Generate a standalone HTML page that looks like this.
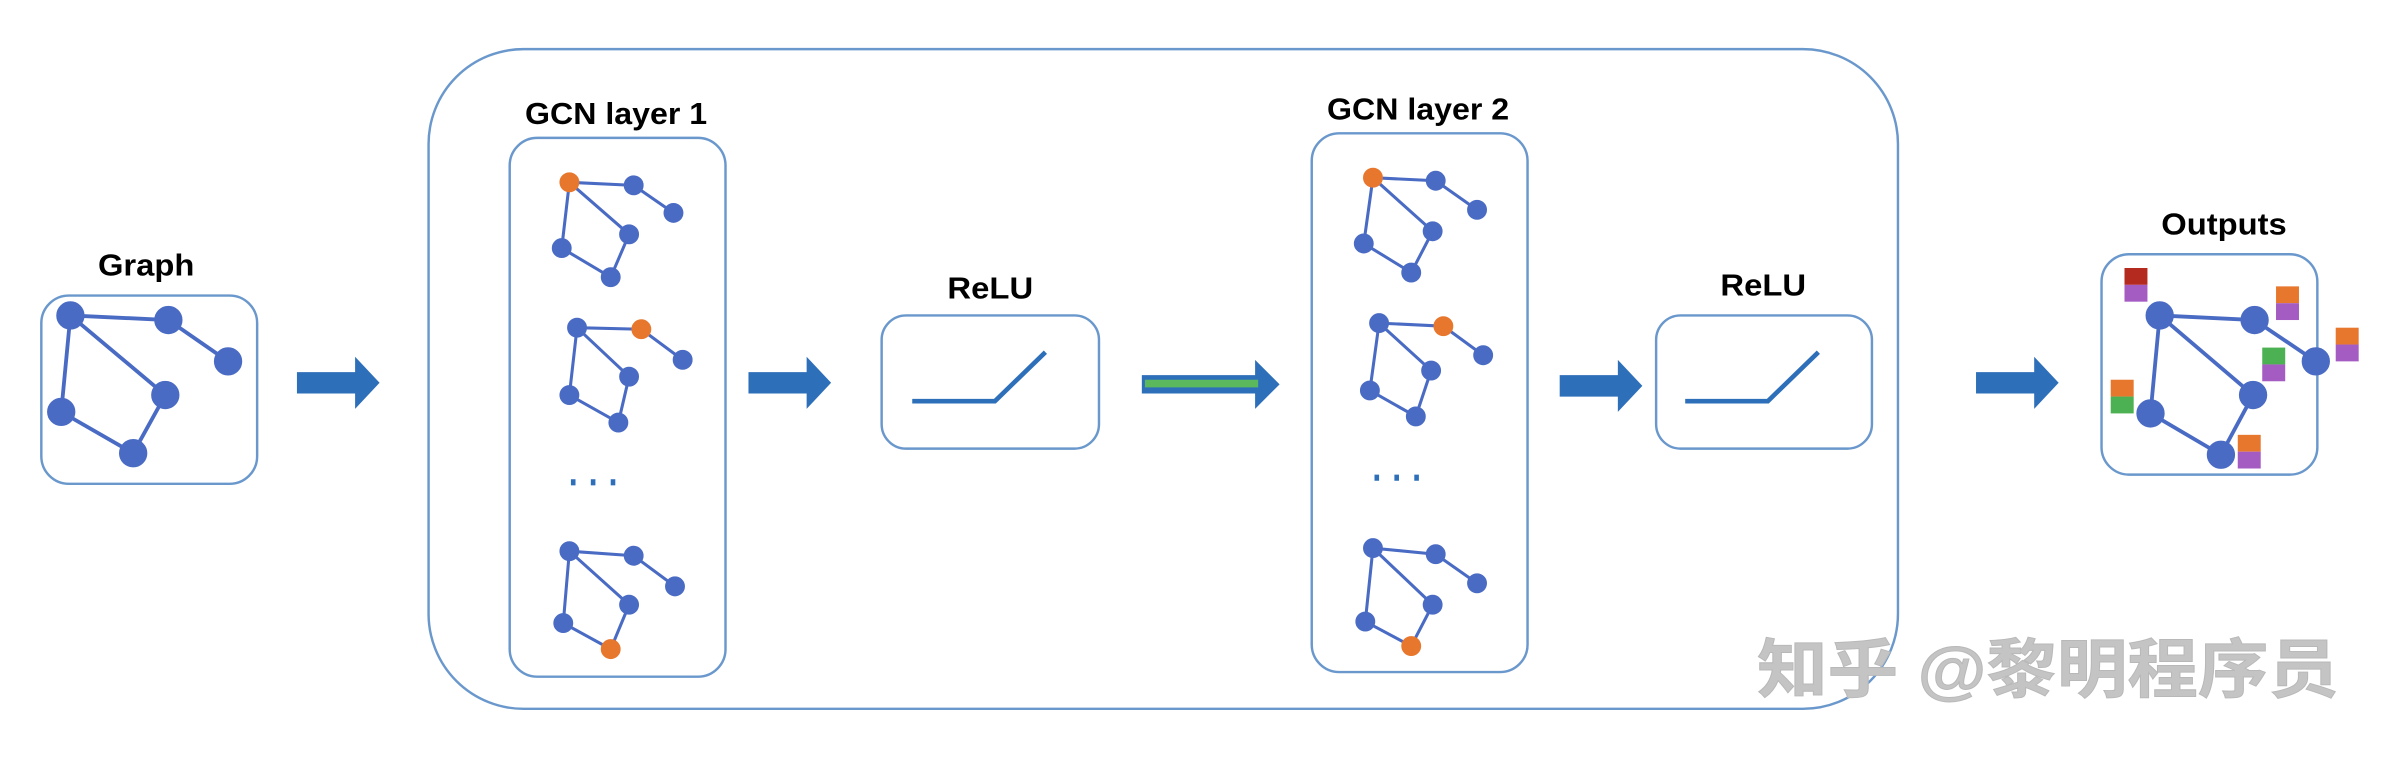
<!DOCTYPE html>
<html><head><meta charset="utf-8"><style>
html,body{margin:0;padding:0;background:#fff;}
svg{display:block;}
text{font-family:"Liberation Sans",Arial,sans-serif;font-weight:bold;fill:#000;}
</style></head><body>
<svg width="2400" height="761" viewBox="0 0 1568 497" xmlns="http://www.w3.org/2000/svg">
<defs>
<g id="arr"><path d="M0,-7 L38,-7 L38,-17 L54,0 L38,17 L38,7 L0,7 Z" fill="#2e6fba"/></g>
</defs>
<g fill="none" stroke="#6a98cc" stroke-width="1.6">
<rect x="280" y="32" width="960" height="431" rx="62"/>
<rect x="27" y="193" width="141" height="123" rx="18"/>
<rect x="333" y="90" width="141" height="352" rx="18"/>
<rect x="857" y="87" width="141" height="352" rx="18"/>
<rect x="576" y="206" width="142" height="87" rx="16"/>
<rect x="1082" y="206" width="141" height="87" rx="16"/>
<rect x="1373" y="166" width="141" height="144" rx="18"/>
</g>
<g font-size="20" lengthAdjust="spacingAndGlyphs">
<text x="64" y="180" textLength="63" lengthAdjust="spacingAndGlyphs">Graph</text>
<text x="343" y="81" textLength="119" lengthAdjust="spacingAndGlyphs">GCN layer 1</text>
<text x="867" y="78" textLength="119" lengthAdjust="spacingAndGlyphs">GCN layer 2</text>
<text x="619" y="195" textLength="56" lengthAdjust="spacingAndGlyphs">ReLU</text>
<text x="1124" y="193" textLength="56" lengthAdjust="spacingAndGlyphs">ReLU</text>
<text x="1412" y="153" textLength="82" lengthAdjust="spacingAndGlyphs">Outputs</text>
</g>
<use href="#arr" x="194" y="250"/>
<use href="#arr" x="489" y="250"/>
<use href="#arr" x="1019" y="252"/>
<use href="#arr" x="1291" y="250"/>
<path d="M746,-6 L820,-6 L820,-16 L836,0 L820,16 L820,6 L746,6 Z" transform="translate(0,251)" fill="#2e6fba"/>
<rect x="748" y="248" width="74" height="5" fill="#5cb85c"/>
<g fill="none" stroke="#2e6fba" stroke-width="3">
<polyline points="596,262 650,262 683,230"/>
<polyline points="1101,262 1155,262 1188,230"/>
</g>
<g stroke="#4a6bc4" stroke-width="2.5" fill="#4a6bc4">
<g>
<line x1="46" y1="206" x2="110" y2="209"/><line x1="110" y1="209" x2="149" y2="236"/><line x1="46" y1="206" x2="108" y2="258"/><line x1="46" y1="206" x2="40" y2="269"/><line x1="40" y1="269" x2="87" y2="296"/><line x1="108" y1="258" x2="87" y2="296"/>
<circle cx="46" cy="206" r="8"/><circle cx="110" cy="209" r="8"/><circle cx="149" cy="236" r="8"/><circle cx="108" cy="258" r="8"/><circle cx="40" cy="269" r="8"/><circle cx="87" cy="296" r="8"/>
</g>
<g>
<line x1="1411" y1="206" x2="1473" y2="209"/><line x1="1473" y1="209" x2="1513" y2="236"/><line x1="1411" y1="206" x2="1472" y2="258"/><line x1="1411" y1="206" x2="1405" y2="270"/><line x1="1405" y1="270" x2="1451" y2="297"/><line x1="1472" y1="258" x2="1451" y2="297"/>
<circle cx="1411" cy="206" r="8"/><circle cx="1473" cy="209" r="8"/><circle cx="1513" cy="236" r="8"/><circle cx="1472" cy="258" r="8"/><circle cx="1405" cy="270" r="8"/><circle cx="1451" cy="297" r="8"/>
</g>
</g>
<g stroke="#4a6bc4" stroke-width="2" fill="#4a6bc4">
<g><line x1="372" y1="119" x2="414" y2="121"/><line x1="414" y1="121" x2="440" y2="139"/><line x1="372" y1="119" x2="411" y2="153"/><line x1="372" y1="119" x2="367" y2="162"/><line x1="367" y1="162" x2="399" y2="181"/><line x1="411" y1="153" x2="399" y2="181"/>
<circle cx="414" cy="121" r="5.5"/><circle cx="440" cy="139" r="5.5"/><circle cx="411" cy="153" r="5.5"/><circle cx="367" cy="162" r="5.5"/><circle cx="399" cy="181" r="5.5"/><circle cx="372" cy="119" r="5.5" fill="#e8772e" stroke="#e8772e"/></g>
<g><line x1="377" y1="214" x2="419" y2="215"/><line x1="419" y1="215" x2="446" y2="235"/><line x1="377" y1="214" x2="411" y2="246"/><line x1="377" y1="214" x2="372" y2="258"/><line x1="372" y1="258" x2="404" y2="276"/><line x1="411" y1="246" x2="404" y2="276"/>
<circle cx="377" cy="214" r="5.5"/><circle cx="446" cy="235" r="5.5"/><circle cx="411" cy="246" r="5.5"/><circle cx="372" cy="258" r="5.5"/><circle cx="404" cy="276" r="5.5"/><circle cx="419" cy="215" r="5.5" fill="#e8772e" stroke="#e8772e"/></g>
<g><line x1="372" y1="360" x2="414" y2="363"/><line x1="414" y1="363" x2="441" y2="383"/><line x1="372" y1="360" x2="411" y2="395"/><line x1="372" y1="360" x2="368" y2="407"/><line x1="368" y1="407" x2="399" y2="424"/><line x1="411" y1="395" x2="399" y2="424"/>
<circle cx="372" cy="360" r="5.5"/><circle cx="414" cy="363" r="5.5"/><circle cx="441" cy="383" r="5.5"/><circle cx="411" cy="395" r="5.5"/><circle cx="368" cy="407" r="5.5"/><circle cx="399" cy="424" r="5.5" fill="#e8772e" stroke="#e8772e"/></g>
<g><line x1="897" y1="116" x2="938" y2="118"/><line x1="938" y1="118" x2="965" y2="137"/><line x1="897" y1="116" x2="936" y2="151"/><line x1="897" y1="116" x2="891" y2="159"/><line x1="891" y1="159" x2="922" y2="178"/><line x1="936" y1="151" x2="922" y2="178"/>
<circle cx="938" cy="118" r="5.5"/><circle cx="965" cy="137" r="5.5"/><circle cx="936" cy="151" r="5.5"/><circle cx="891" cy="159" r="5.5"/><circle cx="922" cy="178" r="5.5"/><circle cx="897" cy="116" r="5.5" fill="#e8772e" stroke="#e8772e"/></g>
<g><line x1="901" y1="211" x2="943" y2="213"/><line x1="943" y1="213" x2="969" y2="232"/><line x1="901" y1="211" x2="935" y2="242"/><line x1="901" y1="211" x2="895" y2="255"/><line x1="895" y1="255" x2="925" y2="272"/><line x1="935" y1="242" x2="925" y2="272"/>
<circle cx="901" cy="211" r="5.5"/><circle cx="969" cy="232" r="5.5"/><circle cx="935" cy="242" r="5.5"/><circle cx="895" cy="255" r="5.5"/><circle cx="925" cy="272" r="5.5"/><circle cx="943" cy="213" r="5.5" fill="#e8772e" stroke="#e8772e"/></g>
<g><line x1="897" y1="358" x2="938" y2="362"/><line x1="938" y1="362" x2="965" y2="381"/><line x1="897" y1="358" x2="936" y2="395"/><line x1="897" y1="358" x2="892" y2="406"/><line x1="892" y1="406" x2="922" y2="422"/><line x1="936" y1="395" x2="922" y2="422"/>
<circle cx="897" cy="358" r="5.5"/><circle cx="938" cy="362" r="5.5"/><circle cx="965" cy="381" r="5.5"/><circle cx="936" cy="395" r="5.5"/><circle cx="892" cy="406" r="5.5"/><circle cx="922" cy="422" r="5.5" fill="#e8772e" stroke="#e8772e"/></g>
</g>
<g fill="#2e6fba">
<rect x="373" y="313" width="3" height="4"/><rect x="386" y="313" width="3" height="4"/><rect x="399" y="313" width="3" height="4"/>
<rect x="898" y="310" width="3" height="4"/><rect x="911" y="310" width="3" height="4"/><rect x="924" y="310" width="3" height="4"/>
</g>
<g>
<rect x="1388" y="175" width="15" height="11" fill="#b52a1f"/><rect x="1388" y="186" width="15" height="11" fill="#a45bc2"/>
<rect x="1487" y="187" width="15" height="11" fill="#e8772e"/><rect x="1487" y="198" width="15" height="11" fill="#a45bc2"/>
<rect x="1526" y="214" width="15" height="11" fill="#e8772e"/><rect x="1526" y="225" width="15" height="11" fill="#a45bc2"/>
<rect x="1478" y="227" width="15" height="11" fill="#4cb152"/><rect x="1478" y="238" width="15" height="11" fill="#a45bc2"/>
<rect x="1379" y="248" width="15" height="11" fill="#e8772e"/><rect x="1379" y="259" width="15" height="11" fill="#4cb152"/>
<rect x="1462" y="284" width="15" height="11" fill="#e8772e"/><rect x="1462" y="295" width="15" height="11" fill="#a45bc2"/>
</g>
<text x="1148" y="452" font-size="42" textLength="380" lengthAdjust="spacingAndGlyphs" style="fill:#c4c4c4;stroke:#b8b8b8;stroke-width:0.6;font-family:'Liberation Sans','Noto Sans CJK SC',sans-serif;font-weight:bold">知乎 @黎明程序员</text>
</svg>
</body></html>
